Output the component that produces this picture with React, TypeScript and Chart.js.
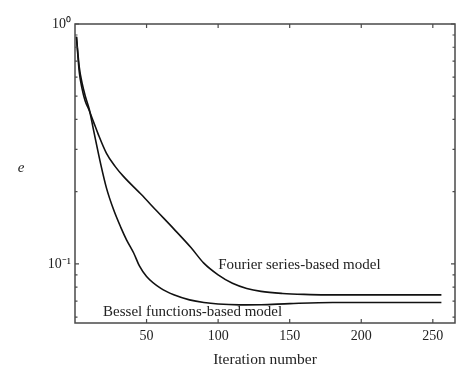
import React, { useEffect, useRef } from "react";
import { Chart, registerables } from "chart.js";

Chart.register(...registerables);

const fourierIter = [1, 3, 5, 7, 10, 13, 16, 22, 28, 34, 46, 57, 69, 81, 90, 100, 110, 120, 130, 145, 160, 175, 256];
const fourierErr = [0.885, 0.63, 0.535, 0.48, 0.435, 0.39, 0.35, 0.289, 0.255, 0.231, 0.1955, 0.1665, 0.14, 0.117, 0.1007, 0.09, 0.083, 0.079, 0.0768, 0.0753, 0.0746, 0.0743, 0.0743];

const besselIter = [1, 3, 5, 7, 10, 13, 18, 22, 27, 32, 36, 41, 45, 50, 60, 69, 80, 90, 100, 115, 130, 150, 180, 256];
const besselErr = [0.885, 0.66, 0.565, 0.505, 0.44, 0.36, 0.26, 0.207, 0.168, 0.142, 0.126, 0.111, 0.098, 0.0886, 0.079, 0.0743, 0.0708, 0.069, 0.068, 0.0675, 0.0676, 0.0683, 0.069, 0.069];

const xTickValues = [50, 100, 150, 200, 250];
const yMajorTicks = [0.1, 1];
const yMinorTicks = [0.06, 0.07, 0.08, 0.09, 0.2, 0.3, 0.4, 0.5, 0.6, 0.7, 0.8, 0.9];
const yTickLabels: Record<string, string> = { "1": "10\u2070", "0.1": "10\u207B\u00B9" };

const seriesLabels = ["Fourier series-based model", "Bessel functions-based model"];
const labelAnchorsX = [100, 19.6];
const labelAnchorsY = [0.0986, 0.0627];

const SERIF = "'Liberation Serif', 'Times New Roman', serif";

const framePlugin = {
  id: "framePlugin",
  afterDraw(chart: any) {
    const { ctx, chartArea: a, scales } = chart;
    const xs = scales.x;
    const ys = scales.y;
    ctx.save();
    ctx.strokeStyle = "#4a4a4a";
    ctx.lineWidth = 1.5;
    ctx.strokeRect(a.left, a.top, a.right - a.left, a.bottom - a.top);
    ctx.lineWidth = 1.2;
    ctx.beginPath();
    for (const v of xTickValues) {
      const px = xs.getPixelForValue(v);
      ctx.moveTo(px, a.bottom);
      ctx.lineTo(px, a.bottom - 4);
      ctx.moveTo(px, a.top);
      ctx.lineTo(px, a.top + 4);
    }
    for (const v of yMajorTicks) {
      const py = ys.getPixelForValue(v);
      ctx.moveTo(a.left, py);
      ctx.lineTo(a.left + 4, py);
      ctx.moveTo(a.right, py);
      ctx.lineTo(a.right - 4, py);
    }
    for (const v of yMinorTicks) {
      const py = ys.getPixelForValue(v);
      ctx.moveTo(a.left, py);
      ctx.lineTo(a.left + 2.5, py);
      ctx.moveTo(a.right, py);
      ctx.lineTo(a.right - 2.5, py);
    }
    ctx.stroke();

    ctx.fillStyle = "#222";
    ctx.font = `15px ${SERIF}`;
    ctx.textAlign = "left";
    ctx.textBaseline = "middle";
    seriesLabels.forEach((t, i) => {
      ctx.fillText(t, xs.getPixelForValue(labelAnchorsX[i]), ys.getPixelForValue(labelAnchorsY[i]));
    });
    ctx.font = `italic 15px ${SERIF}`;
    ctx.textAlign = "center";
    ctx.fillText("e", 21, 168);
    ctx.restore();
  },
};

export default function App() {
  const ref = useRef<HTMLCanvasElement | null>(null);
  useEffect(() => {
    if (!ref.current) return;
    const chart = new Chart(ref.current, {
      type: "line",
      data: {
        datasets: [
          {
            label: seriesLabels[0],
            data: fourierIter.map((x, i) => ({ x, y: fourierErr[i] })),
            borderColor: "#111",
            borderWidth: 1.6,
            pointRadius: 0,
            cubicInterpolationMode: "monotone",
          },
          {
            label: seriesLabels[1],
            data: besselIter.map((x, i) => ({ x, y: besselErr[i] })),
            borderColor: "#111",
            borderWidth: 1.6,
            pointRadius: 0,
            cubicInterpolationMode: "monotone",
          },
        ],
      },
      options: {
        animation: false,
        responsive: false,
        layout: { padding: { top: 24, right: 19, left: 0, bottom: 0 } },
        plugins: { legend: { display: false }, tooltip: { enabled: false } },
        scales: {
          x: {
            type: "linear",
            min: 0,
            max: 265.5,
            grid: { display: false, drawTicks: false },
            border: { display: false },
            afterBuildTicks: (s: any) => {
              s.ticks = xTickValues.map((v) => ({ value: v }));
            },
            afterFit: (s: any) => {
              s.height = 59;
            },
            ticks: {
              color: "#222",
              font: { family: SERIF, size: 14 },
              padding: 5,
              maxRotation: 0,
              callback: (v: any) => String(v),
            },
            title: {
              display: true,
              text: "Iteration number",
              color: "#222",
              font: { family: SERIF, size: 15.5 },
              padding: { top: 4, bottom: 13 },
            },
          },
          y: {
            type: "logarithmic",
            min: 0.0567,
            max: 1,
            grid: { display: false, drawTicks: false },
            border: { display: false },
            afterBuildTicks: (s: any) => {
              s.ticks = yMajorTicks.map((v) => ({ value: v }));
            },
            afterFit: (s: any) => {
              s.width = 75;
            },
            ticks: {
              color: "#222",
              font: { family: SERIF, size: 14 },
              padding: 4,
              callback: (v: any) => yTickLabels[String(v)] ?? "",
            },
          },
        },
      },
      plugins: [framePlugin],
    });
    return () => chart.destroy();
  }, []);
  return (
    <div style={{ position: "fixed", left: 0, top: 0, width: 474, height: 382, background: "#fff" }}>
      <canvas ref={ref} width={474} height={382} style={{ display: "block" }} />
    </div>
  );
}
